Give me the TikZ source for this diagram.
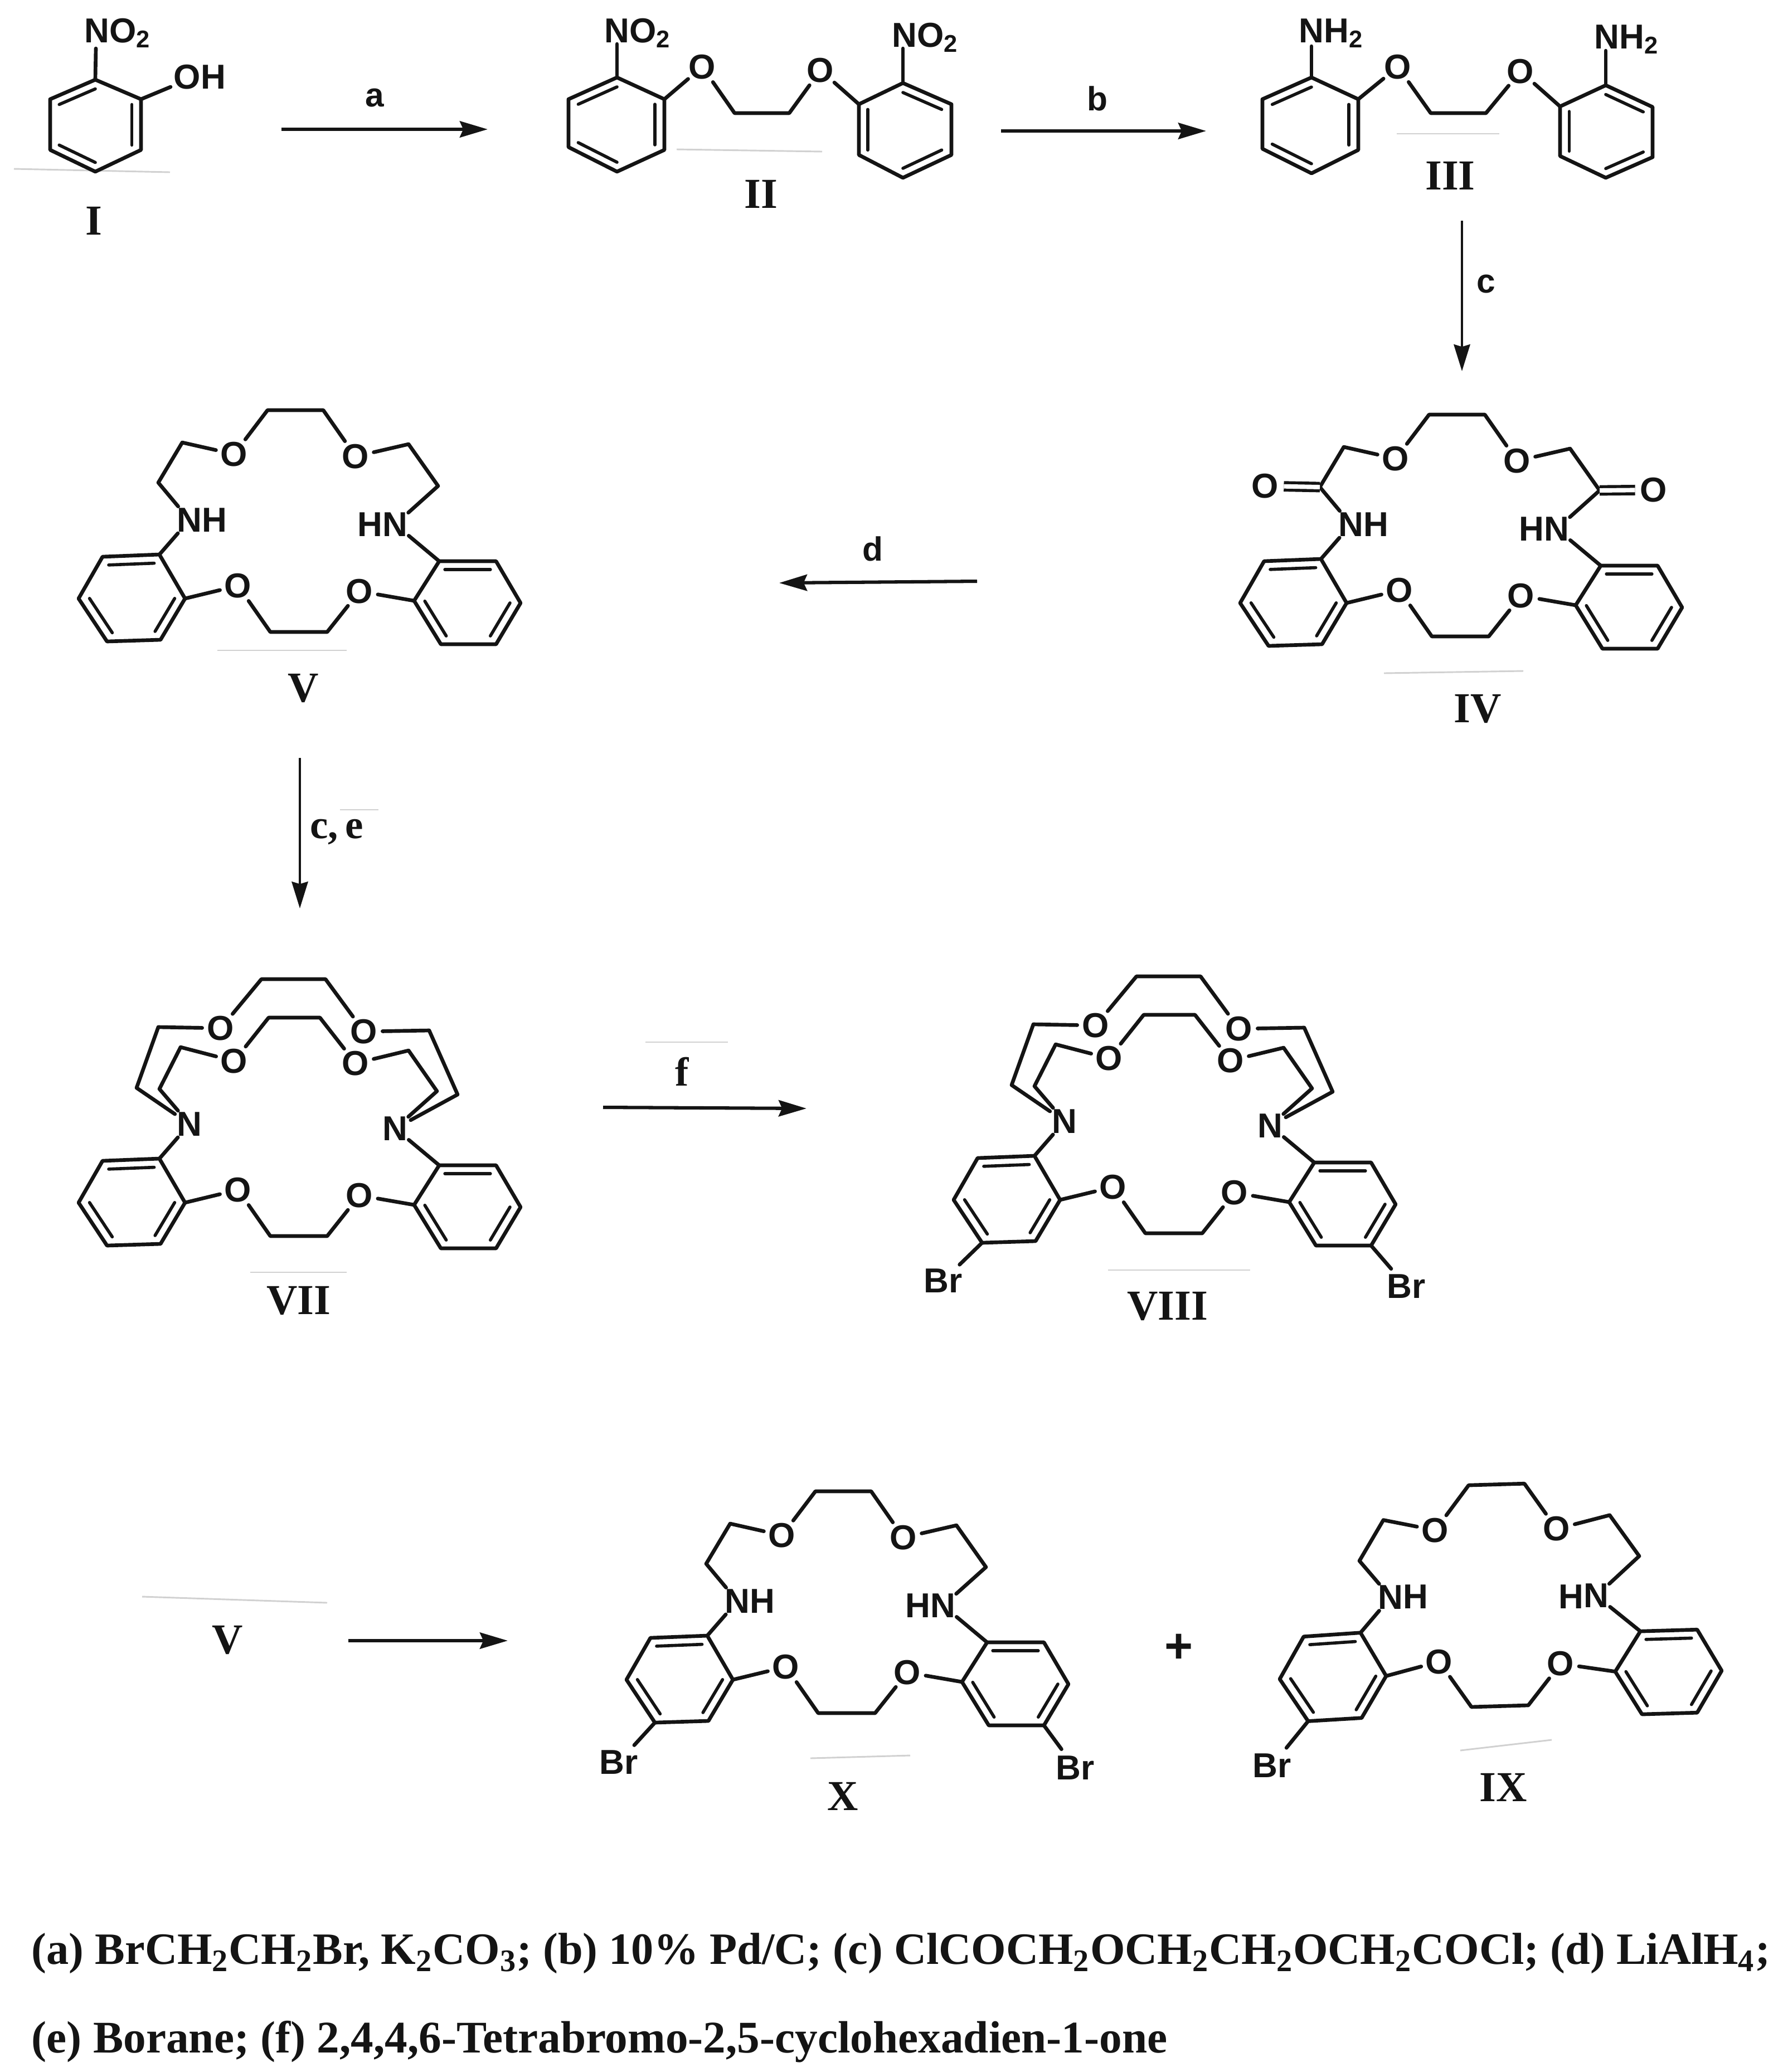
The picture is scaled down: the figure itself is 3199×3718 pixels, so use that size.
\documentclass[tikz,border=0pt]{standalone}
\usepackage{fontspec}
\usetikzlibrary{calc,arrows.meta}
\newfontfamily\atomfam{Liberation Sans}
\newfontfamily\sansfam{Liberation Sans}
\newfontfamily\serfam{Liberation Serif}
\definecolor{ink}{HTML}{141414}
\tikzset{
  x=0.24pt,y=-0.24pt,
  bond/.style={line width=1.6pt,draw=ink,line join=round,line cap=round},
  inbond/.style={line width=1.35pt,draw=ink,line cap=round},
  dblbond/.style={line width=1.3pt,draw=ink,double=white,double distance=1.9pt},
  atom/.style={circle,inner sep=0pt,text=ink,font=\atomfam\bfseries\fontsize{14.9}{15}\selectfont},
  atomb/.style={inner sep=0pt,anchor=base west,text=ink,font=\atomfam\bfseries\fontsize{14.9}{15}\selectfont},
  cmp/.style={inner sep=0pt,text=ink,font=\serfam\bfseries\fontsize{18.4}{19}\selectfont},
  rlab/.style={inner sep=0pt,text=ink,font=\sansfam\bfseries\fontsize{14.5}{15}\selectfont},
  rlabs/.style={inner sep=0pt,text=ink,font=\serfam\bfseries\fontsize{17.5}{18}\selectfont},
  foot/.style={inner sep=0pt,anchor=base west,text=ink,font=\serfam\bfseries\fontsize{19.5}{22}\selectfont},
  foota/.style={foot,font=\serfam\bfseries\fontsize{19.3}{22}\selectfont},
  rxn/.style={line width=1.45pt,draw=ink,-{Stealth[length=12pt,width=7pt,inset=1.5pt]}},
  rxnv/.style={line width=1pt,draw=ink,-{Stealth[length=11.5pt,width=7pt,inset=1pt]}},
  streak/.style={line width=0.7pt,draw=black!18},
}
\newcommand\ringsix[7]{%
  \coordinate (#1-1) at #2;\coordinate (#1-2) at #3;\coordinate (#1-3) at #4;
  \coordinate (#1-4) at #5;\coordinate (#1-5) at #6;\coordinate (#1-6) at #7;
  \coordinate (#1-c) at ($(#1-1)!.5!(#1-4)$);
  \draw[bond] (#1-1)--(#1-2)--(#1-3)--(#1-4)--(#1-5)--(#1-6)--cycle;
  \draw[inbond] ($(#1-1)!.2!(#1-c)$)--($(#1-2)!.2!(#1-c)$);
  \draw[inbond] ($(#1-3)!.2!(#1-c)$)--($(#1-4)!.2!(#1-c)$);
  \draw[inbond] ($(#1-5)!.2!(#1-c)$)--($(#1-6)!.2!(#1-c)$);
}
\newcommand\crownbase{%
  \ringsix{L}{(286,995)}{(184,999)}{(141,1074)}{(192,1151)}{(288,1148)}{(332,1074)}
  \ringsix{R}{(788,1007)}{(890,1007)}{(934,1082)}{(890,1156)}{(791,1156)}{(743,1078)}
  \node[atom] (oL) at (427,1051) {O};
  \node[atom] (oR) at (645,1061) {O};
  \coordinate (c1) at (485,1134);
  \coordinate (c2) at (587,1134);
  \draw[bond] (L-6)--(oL)--(c1)--(c2)--(oR)--(R-6);
  \node[atom] (nL) at (340,933) {N};
  \node[atom] (nR) at (709,941) {N};
  \draw[bond] (nL)--(L-1);
  \draw[bond] (nR)--(R-1);
}
\newcommand\crownH{%
  \node[atom] (hL) at (385,933) {H};
  \node[atom] (hR) at (664,941) {H};
}
\newcommand\crownchain{%
  \coordinate (c3) at (284,866);
  \coordinate (c4) at (327,794);
  \node[atom] (oT1) at (420,815) {O};
  \coordinate (c5) at (480,736);
  \coordinate (c6) at (580,736);
  \node[atom] (oT2) at (638,819) {O};
  \coordinate (c7) at (733,797);
  \coordinate (c8) at (786,872);
  \draw[bond] (nL)--(c3)--(c4)--(oT1)--(c5)--(c6)--(oT2)--(c7)--(c8)--(nR);
}
\newcommand\crowncage{%
  \coordinate (c3) at (286,870);
  \coordinate (c4) at (324,795);
  \node[atom] (oT1) at (420,820) {O};
  \coordinate (c5) at (482,742);
  \coordinate (c6) at (574,742);
  \node[atom] (oT2) at (638,824) {O};
  \coordinate (c7) at (733,801);
  \coordinate (c8) at (784,874);
  \draw[bond] (nL)--(c3)--(c4)--(oT1)--(c5)--(c6)--(oT2)--(c7)--(c8)--(nR);
  \coordinate (d3) at (245,868);
  \coordinate (d4) at (284,759);
  \node[atom] (oU1) at (396,761) {O};
  \coordinate (d5) at (469,673);
  \coordinate (d6) at (584,673);
  \node[atom] (oU2) at (653,767) {O};
  \coordinate (d7) at (770,765);
  \coordinate (d8) at (821,880);
  \draw[bond] (nL)--(d3)--(d4)--(oU1)--(d5)--(d6)--(oU2)--(d7)--(d8)--(nR);
}
\begin{document}
\begin{tikzpicture}
\useasboundingbox (0,0) rectangle (3199,3718);
\fill[white] (0,0) rectangle (3199,3718);
% faint scan streaks
\draw[streak] (25,303)--(305,309);
\draw[streak] (1214,268)--(1475,272);
\draw[streak] (2506,240)--(2690,240);
\draw[streak] (390,1167)--(622,1167);
\draw[streak] (2483,1208)--(2733,1204);
\draw[streak] (610,1453)--(679,1453);
\draw[streak] (1158,1870)--(1306,1870);
\draw[streak] (449,2283)--(622,2283);
\draw[streak] (1988,2279)--(2243,2279);
\draw[streak] (255,2865)--(587,2876);
\draw[streak] (1454,3155)--(1633,3150);
\draw[streak] (2620,3141)--(2784,3122);
% I
\ringsix{I}{(171,143)}{(90,178)}{(90,269)}{(171,308)}{(253,269)}{(253,178)}
\node[atomb] (iNO) at (151,76) {NO\textsubscript{2}};
\coordinate (iNOe) at (172,87);
\draw[bond] (I-1)--(iNOe);
\node[atomb] (iOH) at (311,159) {OH};
\coordinate (iOHe) at (306,156);
\draw[bond] (I-6)--(iOHe);
\node[cmp] (lI) at (168,396) {I};
% II
\ringsix{IIa}{(1107,139)}{(1020,178)}{(1020,264)}{(1107,308)}{(1192,269)}{(1192,178)}
\ringsix{IIb}{(1620,149)}{(1707,187)}{(1707,278)}{(1620,319)}{(1541,278)}{(1541,187)}
\node[atom] (iiO1) at (1260,120) {O};
\node[atom] (iiO2) at (1472,126) {O};
\coordinate (iic1) at (1318,203);
\coordinate (iic2) at (1416,203);
\draw[bond] (IIa-6)--(iiO1)--(iic1)--(iic2)--(iiO2)--(IIb-6);
\node[atomb] (iiNa) at (1084,76) {NO\textsubscript{2}};
\coordinate (iiNae) at (1107,79);
\draw[bond] (IIa-1)--(iiNae);
\node[atomb] (iiNb) at (1600,84) {NO\textsubscript{2}};
\coordinate (iiNbe) at (1620,87);
\draw[bond] (IIb-1)--(iiNbe);
\node[cmp] (lII) at (1365,348) {II};
% III
\ringsix{IIIa}{(2353,139)}{(2265,178)}{(2265,267)}{(2353,311)}{(2437,269)}{(2437,178)}
\ringsix{IIIb}{(2881,153)}{(2965,192)}{(2965,282)}{(2881,319)}{(2799,280)}{(2799,191)}
\node[atom] (iiiO1) at (2508,120) {O};
\node[atom] (iiiO2) at (2728,128) {O};
\coordinate (iiic1) at (2567,203);
\coordinate (iiic2) at (2666,203);
\draw[bond] (IIIa-6)--(iiiO1)--(iiic1)--(iiic2)--(iiiO2)--(IIIb-6);
\node[atomb] (iiiNa) at (2330,76) {NH\textsubscript{2}};
\coordinate (iiiNae) at (2353,83);
\draw[bond] (IIIa-1)--(iiiNae);
\node[atomb] (iiiNb) at (2860,87) {NH\textsubscript{2}};
\coordinate (iiiNbe) at (2881,91);
\draw[bond] (IIIb-1)--(iiiNbe);
\node[cmp] (lIII) at (2602,315) {III};
% IV
\begin{scope}[name prefix=iv-,shift={(2084,8)}]
  \crownbase\crownH\crownchain
  \node[atom] (oA) at (186,864) {O};
  \node[atom] (oB) at (883,871) {O};
  \draw[dblbond] (oA)--(c3);
  \draw[dblbond] (oB)--(c8);
\end{scope}
\node[cmp] (lIV) at (2651,1272) {IV};
% V
\begin{scope}[name prefix=v-]
  \crownbase\crownH\crownchain
\end{scope}
\node[cmp] (lV) at (544,1235) {V};
% VII
\begin{scope}[name prefix=vii-,shift={(0,1084)}]
  \crownbase\crowncage
\end{scope}
\node[cmp] (lVII) at (536,2334) {VII};
% VIII
\begin{scope}[name prefix=viii-,shift={(1570,1079)}]
  \crownbase\crowncage
  \node[atom] (brL) at (122,1219) {Br};
  \node[atom] (brR) at (953,1229) {Br};
  \draw[bond] (L-4)--(brL);
  \draw[bond] (R-4)--(brR);
\end{scope}
\node[cmp] (lVIII) at (2095,2344) {VIII};
% X
\begin{scope}[name prefix=x-,shift={(983,1940)}]
  \crownbase\crownH\crownchain
  \node[atom] (brL) at (127,1222) {Br};
  \node[atom] (brR) at (946,1232) {Br};
  \draw[bond] (L-4)--(brL);
  \draw[bond] (R-4)--(brR);
\end{scope}
\node[cmp] (lX) at (1512,3223) {X};
% IX
\begin{scope}[name prefix=ix-,cm={1,0.029,0,1,(2155,1943)}]
  \crownbase\crownH\crownchain
  \node[atom] (brL) at (127,1229) {Br};
  \draw[bond] (L-4)--(brL);
\end{scope}
\node[cmp] (lIX) at (2697,3207) {IX};
% reaction arrows
\coordinate (aS) at (505,232);\coordinate (aE) at (875,232);
\draw[rxn] (aS)--(aE);
\node[rlab] (la) at (672,176) {a};
\coordinate (bS) at (1796,235);\coordinate (bE) at (2164,235);
\draw[rxn] (bS)--(bE);
\node[rlab] (lb) at (1969,177) {b};
\coordinate (cS) at (2623,396);\coordinate (cE) at (2623,666);
\draw[rxnv] (cS)--(cE);
\node[rlab] (lc) at (2666,510) {c};
\coordinate (dS) at (1753,1043);\coordinate (dE) at (1398,1046);
\draw[rxn] (dS)--(dE);
\node[rlab] (ld) at (1566,985) {d};
\coordinate (eS) at (538,1360);\coordinate (eE) at (538,1630);
\draw[rxnv] (eS)--(eE);
\node[rlabs] (lce) at (604,1493) {c,\,e};
\coordinate (fS) at (1082,1987);\coordinate (fE) at (1447,1989);
\draw[rxn] (fS)--(fE);
\node[rlabs] (lf) at (1224,1923) {f};
\node[cmp] (lV2) at (408,2943) {V};
\coordinate (gS) at (625,2944);\coordinate (gE) at (911,2944);
\draw[rxn] (gS)--(gE);
\node[inner sep=0pt,text=ink,font=\sansfam\bfseries\fontsize{21}{22}\selectfont] (plus) at (2115,2958) {+};
% footer
\node[foota] (ft1) at (56,3524) {(a) BrCH\textsubscript{2}CH\textsubscript{2}Br, K\textsubscript{2}CO\textsubscript{3}; (b) 10\% Pd/C; (c) ClCOCH\textsubscript{2}OCH\textsubscript{2}CH\textsubscript{2}OCH\textsubscript{2}COCl; (d) LiAlH\textsubscript{4};};
\node[foot] (ft2) at (56,3683) {(e) Borane; (f) 2,4,4,6-Tetrabromo-2,5-cyclohexadien-1-one};
\end{tikzpicture}
\end{document}
